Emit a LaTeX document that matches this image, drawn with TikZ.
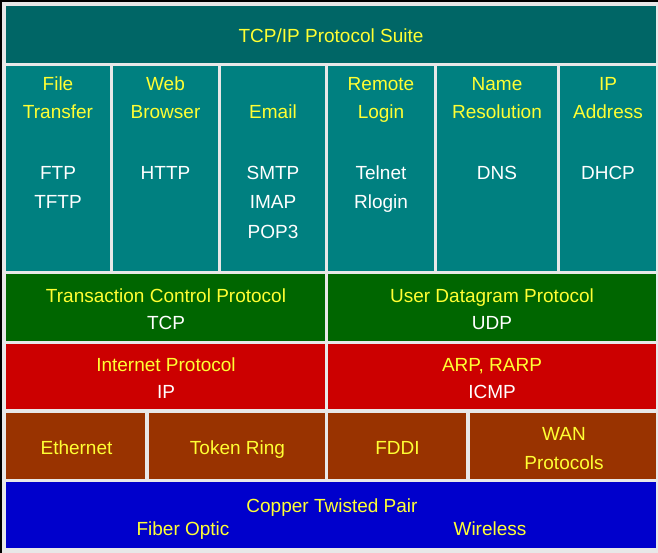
\documentclass[tikz,border=0pt]{standalone}
\usepackage{fontspec}
\setmainfont{Liberation Sans}
\definecolor{bgc}{HTML}{E8E8E8}
\definecolor{titlec}{HTML}{006666}
\definecolor{appc}{HTML}{008080}
\definecolor{tranc}{HTML}{006600}
\definecolor{inetc}{HTML}{CC0000}
\definecolor{linkc}{HTML}{993300}
\definecolor{physc}{HTML}{0000CC}
\definecolor{ylwc}{HTML}{FFFF33}
\begin{document}
\begin{tikzpicture}[x=1pt,y=-1pt,
  cell/.style={draw=none,inner sep=0pt,outer sep=0pt,anchor=north west},
  txt/.style={inner sep=0pt,anchor=base,font=\fontsize{19}{19}\selectfont},
  ylw/.style={txt,text=ylwc},
  wht/.style={txt,text=white}]
\useasboundingbox (0,0) rectangle (658,553);
\fill[bgc] (0,0) rectangle (658,553);
\fill[black] (0,0) rectangle (658,2);
\fill[black] (0,0) rectangle (2,553);
% title
\node[cell,fill=titlec,minimum width=650pt,minimum height=57pt] (title) at (6,6) {};
% application columns
\node[cell,fill=appc,minimum width=104pt,minimum height=205pt] (c1) at (6,66) {};
\node[cell,fill=appc,minimum width=105pt,minimum height=205pt] (c2) at (113,66) {};
\node[cell,fill=appc,minimum width=104pt,minimum height=205pt] (c3) at (221,66) {};
\node[cell,fill=appc,minimum width=106pt,minimum height=205pt] (c4) at (328,66) {};
\node[cell,fill=appc,minimum width=120pt,minimum height=205pt] (c5) at (437,66) {};
\node[cell,fill=appc,minimum width=96pt,minimum height=205pt] (c6) at (560,66) {};
% transport
\node[cell,fill=tranc,minimum width=319pt,minimum height=67pt] (tcp) at (6,274) {};
\node[cell,fill=tranc,minimum width=328pt,minimum height=67pt] (udp) at (328,274) {};
% internet
\node[cell,fill=inetc,minimum width=319pt,minimum height=65pt] (ip) at (6,344) {};
\node[cell,fill=inetc,minimum width=328pt,minimum height=65pt] (arp) at (328,344) {};
% link
\node[cell,fill=linkc,minimum width=139pt,minimum height=66pt] (eth) at (6,413) {};
\node[cell,fill=linkc,minimum width=176pt,minimum height=66pt] (tok) at (149,413) {};
\node[cell,fill=linkc,minimum width=138pt,minimum height=66pt] (fddi) at (328,413) {};
\node[cell,fill=linkc,minimum width=186pt,minimum height=66pt] (wan) at (470,413) {};
% physical
\node[cell,fill=physc,minimum width=650pt,minimum height=66pt] (phys) at (6,482) {};

% texts
\node[ylw] (tTitle) at (331,43) {TCP/IP Protocol Suite};

\node[ylw] (t1a) at (58,90.5) {File};
\node[ylw] (t1b) at (58,119) {Transfer};
\node[wht] (t1c) at (58,180) {FTP};
\node[wht] (t1d) at (58,209) {TFTP};

\node[ylw] (t2a) at (165.5,90.5) {Web};
\node[ylw] (t2b) at (165.5,119) {Browser};
\node[wht] (t2c) at (165.5,180) {HTTP};

\node[ylw] (t3b) at (273,119) {Email};
\node[wht] (t3c) at (273,180) {SMTP};
\node[wht] (t3d) at (273,209) {IMAP};
\node[wht] (t3e) at (273,239) {POP3};

\node[ylw] (t4a) at (381,90.5) {Remote};
\node[ylw] (t4b) at (381,119) {Login};
\node[wht] (t4c) at (381,180) {Telnet};
\node[wht] (t4d) at (381,209) {Rlogin};

\node[ylw] (t5a) at (497,90.5) {Name};
\node[ylw] (t5b) at (497,119) {Resolution};
\node[wht] (t5c) at (497,180) {DNS};

\node[ylw] (t6a) at (608,90.5) {IP};
\node[ylw] (t6b) at (608,119) {Address};
\node[wht] (t6c) at (608,180) {DHCP};

\node[ylw] (tTa) at (166,302) {Transaction Control Protocol};
\node[wht] (tTb) at (166,329) {TCP};
\node[ylw] (tUa) at (492,302) {User Datagram Protocol};
\node[wht] (tUb) at (492,329) {UDP};

\node[ylw] (tIa) at (166,371) {Internet Protocol};
\node[wht] (tIb) at (166,398) {IP};
\node[ylw] (tAa) at (492,371) {ARP, RARP};
\node[wht] (tAb) at (492,398) {ICMP};

\node[ylw] (tEth) at (76.5,454) {Ethernet};
\node[ylw] (tTok) at (237.5,454) {Token Ring};
\node[ylw] (tFd) at (397.5,454) {FDDI};
\node[ylw] (tWa) at (564,440) {WAN};
\node[ylw] (tWb) at (564,469) {Protocols};

\node[ylw] (tCu) at (332,512) {Copper Twisted Pair};
\node[ylw] (tFo) at (183,535) {Fiber Optic};
\node[ylw] (tWl) at (490,535) {Wireless};
\end{tikzpicture}
\end{document}
